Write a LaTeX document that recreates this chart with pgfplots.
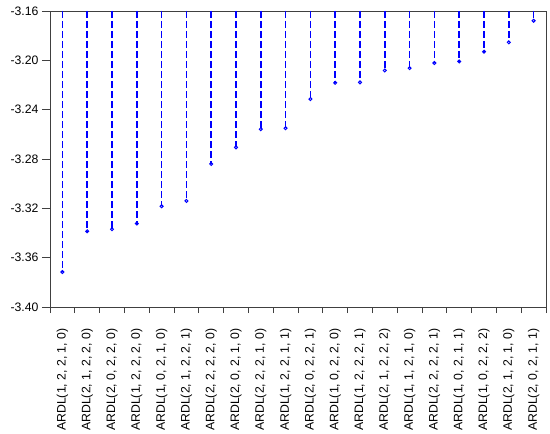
\documentclass[border=0pt]{standalone}
\usepackage{fontspec}
\setmainfont{Liberation Sans}
\usepackage{pgfplots}
\pgfplotsset{compat=1.18}

\definecolor{combblue}{RGB}{0,0,255}

\begin{document}
\begin{tikzpicture}
\begin{axis}[
  name=ax,
  scale only axis,
  width=496bp, height=296bp,
  xmin=0.5, xmax=20.5,
  ymin=-3.40, ymax=-3.16,
  axis line style={draw=black!75, line width=0.9pt},
  xtick={1,...,20},
  xticklabels={
    {ARDL(1, 2, 2, 1, 0)},{ARDL(2, 1, 2, 2, 0)},{ARDL(2, 0, 2, 2, 0)},{ARDL(1, 2, 2, 2, 0)},
    {ARDL(1, 0, 2, 1, 0)},{ARDL(2, 1, 2, 2, 1)},{ARDL(2, 2, 2, 2, 0)},{ARDL(2, 0, 2, 1, 0)},
    {ARDL(2, 2, 2, 1, 0)},{ARDL(1, 2, 2, 1, 1)},{ARDL(2, 0, 2, 2, 1)},{ARDL(1, 0, 2, 2, 0)},
    {ARDL(1, 2, 2, 2, 1)},{ARDL(2, 1, 2, 2, 2)},{ARDL(1, 1, 2, 1, 0)},{ARDL(2, 2, 2, 2, 1)},
    {ARDL(1, 0, 2, 1, 1)},{ARDL(1, 0, 2, 2, 2)},{ARDL(2, 1, 2, 1, 0)},{ARDL(2, 0, 2, 1, 1)}},
  x tick label style={rotate=90, anchor=east, font=\fontsize{12.3}{14}\selectfont},
  xtick pos=bottom,
  xtick align=outside,
  major x tick style={draw=none},
  minor xtick={0.5,1.5,...,20.5},
  minor x tick style={draw=black!75, line width=0.9pt},
  minor tick length=6bp,
  xticklabel shift=10bp,
  ytick={-3.40,-3.36,-3.32,-3.28,-3.24,-3.20,-3.16},
  ytick pos=left,
  ytick align=outside,
  major y tick style={draw=black!75, line width=0.9pt},
  major tick length=8bp,
  yticklabel style={font=\fontsize{12.3}{14}\selectfont,
    /pgf/number format/.cd, fixed, fixed zerofill, precision=2, assume math mode=true},
]
\addplot[ycomb, combblue, line width=1.5pt, dash pattern=on 7bp off 3bp,
  mark=o, mark size=1.5pt, mark options={solid, line width=1pt}]
  coordinates {
  (1,-3.3716)(2,-3.3386)(3,-3.3370)(4,-3.3323)(5,-3.3183)
  (6,-3.3140)(7,-3.2840)(8,-3.2706)(9,-3.2558)(10,-3.2550)
  (11,-3.2314)(12,-3.2182)(13,-3.2179)(14,-3.2082)(15,-3.2063)
  (16,-3.2022)(17,-3.2009)(18,-3.1930)(19,-3.1854)(20,-3.1679)};
\end{axis}
\path (ax.south west) ++(-50bp,-127bp) coordinate (bl);
\path (ax.north east) ++(4bp,11bp) coordinate (tr);
\path (bl) rectangle (tr);
\end{tikzpicture}
\end{document}
